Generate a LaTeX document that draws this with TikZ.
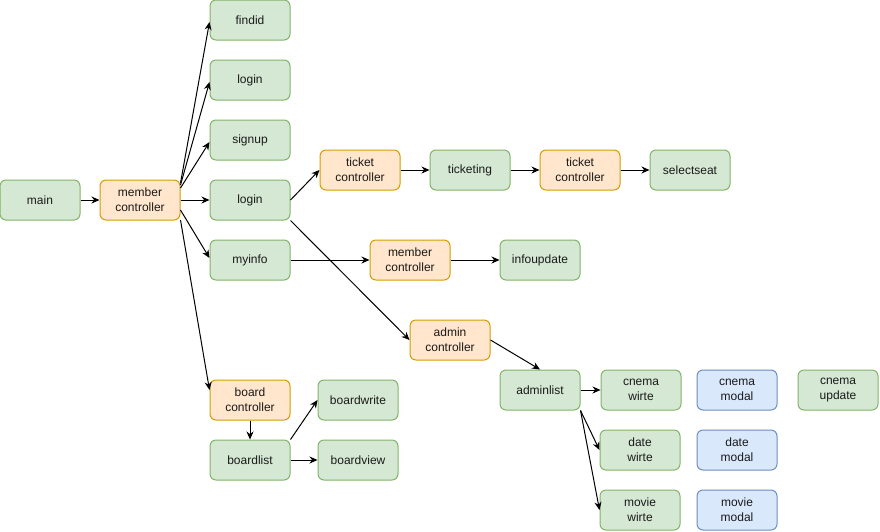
\documentclass[tikz,border=0pt]{standalone}
\usepackage{fontspec}
\setmainfont{Liberation Sans}
\usetikzlibrary{arrows.meta}
\definecolor{gfill}{HTML}{D5E8D4}
\definecolor{gline}{HTML}{82B366}
\definecolor{ofill}{HTML}{FFE6CC}
\definecolor{oline}{HTML}{D79B00}
\definecolor{bfill}{HTML}{DAE8FC}
\definecolor{bline}{HTML}{6C8EBF}
\definecolor{txt}{HTML}{1A1A1A}
\tikzset{
  box/.style={rounded corners=6pt, line width=1pt, minimum width=80pt, minimum height=40pt,
    inner sep=0pt, align=center, text=txt, font=\fontsize{12}{15}\selectfont},
  gbox/.style={box, fill=gfill, draw=gline},
  obox/.style={box, fill=ofill, draw=oline},
  bbox/.style={box, fill=bfill, draw=bline},
  arr/.style={-{Stealth[length=8pt,width=7pt]}, line width=1pt, black}
}
\begin{document}
\begin{tikzpicture}[x=1pt,y=-1pt]
\useasboundingbox (0,0) rectangle (880,531);
\node[gbox] (main) at (40,200) {main};
\node[obox] (mc) at (140,200) {member\\controller};
\node[gbox] (findid) at (250,20) {findid};
\node[gbox] (login1) at (250,80) {login};
\node[gbox] (signup) at (250,140) {signup};
\node[gbox] (login2) at (250,200) {login};
\node[gbox] (myinfo) at (250,260) {myinfo};
\node[obox] (bc) at (250,400) {board\\controller};
\node[gbox] (blist) at (250,460) {boardlist};
\node[gbox] (bwrite) at (358,400) {boardwrite};
\node[gbox] (bview) at (358,460) {boardview};
\node[obox] (tc1) at (360,170) {ticket\\controller};
\node[gbox] (ticketing) at (470,170) {ticketing};
\node[obox] (tc2) at (580,170) {ticket\\controller};
\node[gbox] (seat) at (690,170) {selectseat};
\node[obox] (mc2) at (410,260) {member\\controller};
\node[gbox] (infoup) at (540,260) {infoupdate};
\node[obox] (ac) at (450,340) {admin\\controller};
\node[gbox] (alist) at (540,390) {adminlist};
\node[gbox] (cw) at (641,390) {cnema\\wirte};
\node[bbox] (cm) at (737,390) {cnema\\modal};
\node[gbox] (cu) at (838,390) {cnema\\update};
\node[gbox] (dw) at (640,450) {date\\wirte};
\node[bbox] (dm) at (737,450) {date\\modal};
\node[gbox] (mw) at (640,510) {movie\\wirte};
\node[bbox] (mm) at (737,510) {movie\\modal};

\draw[arr] (main) -- (mc);
\draw[arr] ([yshift=17pt]mc.east) -- ([yshift=-2pt]findid.west);
\draw[arr] ([yshift=15pt]mc.east) -- ([yshift=-2pt]login1.west);
\draw[arr] ([yshift=12pt]mc.east) -- ([yshift=-2pt]signup.west);
\draw[arr] (mc) -- (login2);
\draw[arr] ([yshift=-10pt]mc.east) -- ([yshift=2pt]myinfo.west);
\draw[arr] ([yshift=-20pt]mc.east) -- ([yshift=10pt]bc.west);
\draw[arr] (login2.east) -- (tc1.west);
\draw[arr] (login2.south east) -- (ac.west);
\draw[arr] (tc1) -- (ticketing);
\draw[arr] (ticketing) -- (tc2);
\draw[arr] (tc2) -- (seat);
\draw[arr] (myinfo) -- (mc2);
\draw[arr] (mc2) -- (infoup);
\draw[arr] (ac.east) -- (alist.north);
\draw[arr] (alist) -- (cw);
\draw[arr] (alist.south east) -- (dw.west);
\draw[arr] (alist.south east) -- (mw.west);
\draw[arr] (bc) -- (blist);
\draw[arr] (blist.north east) -- (bwrite.west);
\draw[arr] (blist) -- (bview);
\end{tikzpicture}
\end{document}
